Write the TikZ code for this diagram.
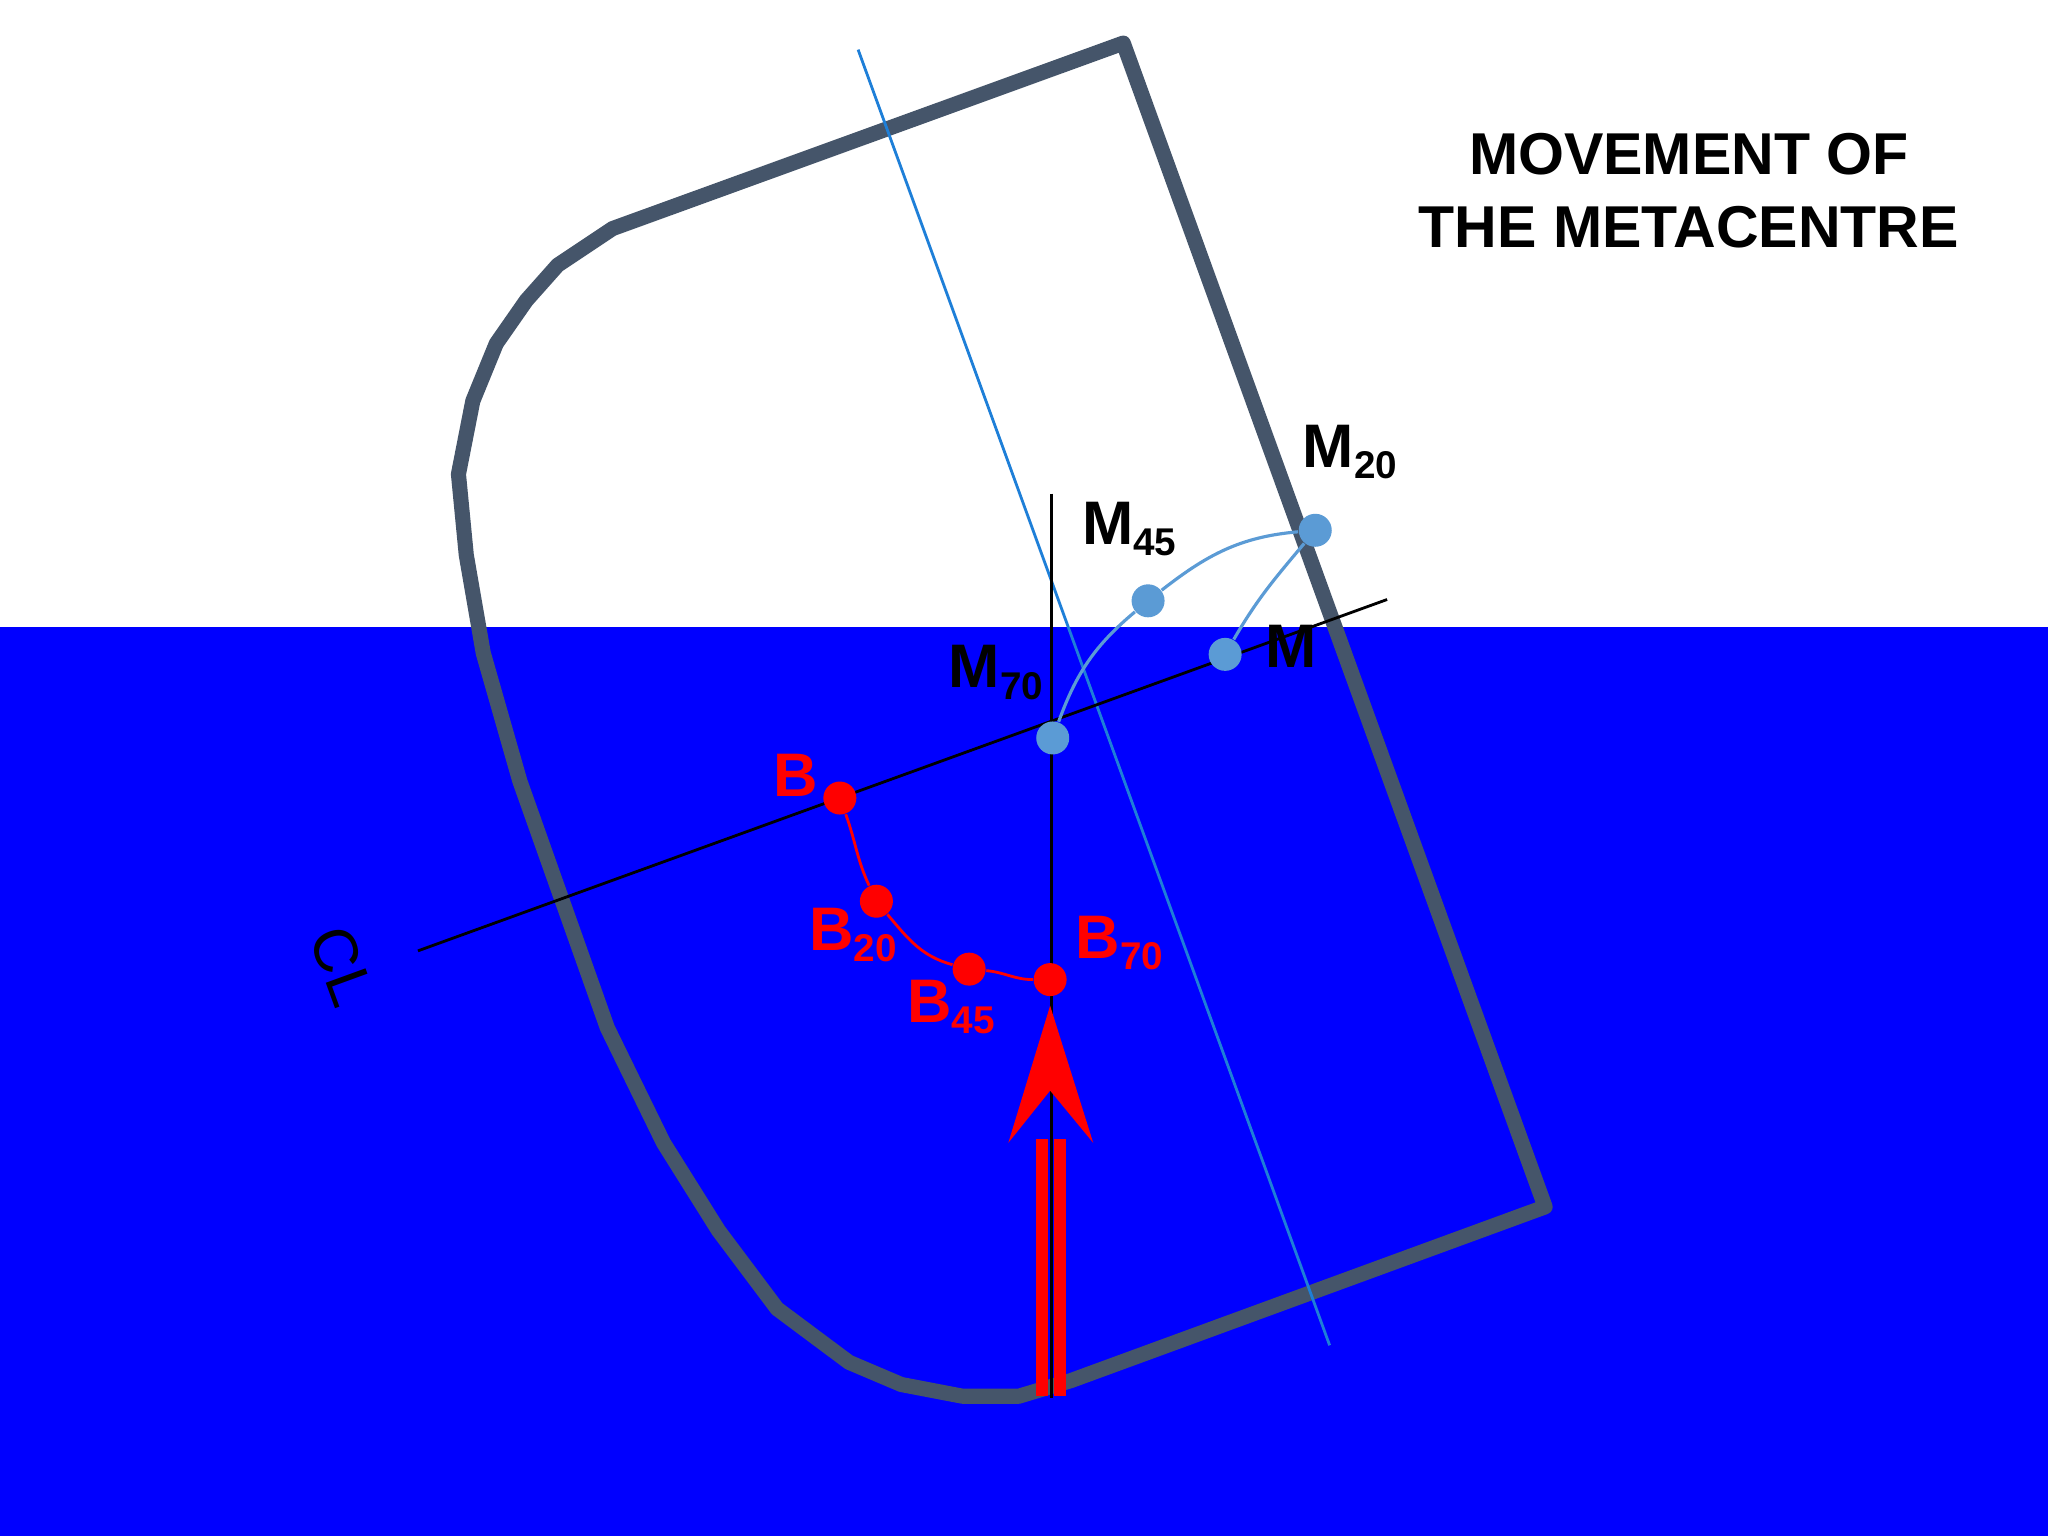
\documentclass[tikz,border=0pt]{standalone}
\usepackage{fontspec}
\setmainfont{Liberation Sans}
\definecolor{hull}{HTML}{45556A}
\definecolor{water}{HTML}{0000FF}
\definecolor{thinblue}{HTML}{1E7FD8}
\definecolor{mblue}{HTML}{5B9BD5}
\tikzset{
 lbl/.style={font=\fontsize{17.5}{20}\selectfont\bfseries,inner sep=0pt},
 bpt/.style={circle,fill=red,minimum size=0.33cm,inner sep=0pt},
 mpt/.style={circle,fill=mblue,minimum size=0.33cm,inner sep=0pt},
}
\newcommand{\sbx}[1]{\raisebox{-0.35ex}{\fontsize{11}{12}\selectfont #1}}
\begin{document}
\begin{tikzpicture}[x=0.01306cm,y=-0.01306cm]
\useasboundingbox (0,0) rectangle (1568,1176);
\fill[white] (0,0) rectangle (1568,480);
\fill[water] (0,480) rectangle (1568,1176);
\draw[hull,line width=4.3pt,line join=round]
 (860,33) -- (1183,924) -- (820,1057) -- (780,1069) -- (737,1069) -- (690,1060) -- (650,1043) -- (595,1002) -- (550,942) -- (508,875) -- (465,787) -- (398,598) -- (370,500) -- (357,425) -- (351,363) -- (362,307) -- (380,263) -- (403,230) -- (427,203) -- (469,175) -- cycle;
\coordinate (t1) at (657,38); \coordinate (t2) at (1018,1030);
\draw[thinblue,line width=0.8pt] (t1) -- (t2);
\coordinate (c1) at (320,728); \coordinate (c2) at (1062,459);
\draw[black,line width=0.8pt] (c1) -- (c2);
\coordinate (v1) at (805,378); \coordinate (v2) at (805,1070);
\draw[black,line width=0.8pt] (v1) -- (v2);
\node[font=\fontsize{17.5}{20}\selectfont,rotate=-70] (cl) at (262,740) {CL};
% B curve
\node[bpt] (B) at (643,611) {};
\node[bpt] (B20) at (671,690) {};
\node[bpt] (B45) at (742,742) {};
\node[bpt] (B70) at (804,750) {};
\draw[red,line width=0.8pt] (B) to[out=-70,in=115] (B20) to[out=-50,in=165] (B45) to[out=-5,in=180] (B70);
% M curves
\node[mpt] (M70) at (806,565) {};
\node[mpt] (M45) at (879,460) {};
\node[mpt] (M20) at (1007,406) {};
\node[mpt] (M) at (938,501) {};
\draw[mblue,line width=0.9pt] (M70) to[out=70,in=220] (M45) to[out=38,in=185] (M20);
\draw[mblue,line width=0.9pt] (M) to[out=60,in=230] (M20);
% arrow
\fill[red] (793,872) rectangle (802,1069);
\fill[red] (807,872) rectangle (816,1069);
\fill[red] (804,770) -- (837,875) -- (804,835) -- (772,875) -- cycle;
% labels
\node[lbl,red,anchor=east] at (627,594) {B};
\node[lbl,red,anchor=west] at (619,716) {B\sbx{20}};
\node[lbl,red,anchor=west] at (694,771) {B\sbx{45}};
\node[lbl,red,anchor=west] at (823,722) {B\sbx{70}};
\node[lbl,anchor=west] at (726,515) {M\sbx{70}};
\node[lbl,anchor=west] at (828,405) {M\sbx{45}};
\node[lbl,anchor=west] at (997,346) {M\sbx{20}};
\node[lbl,anchor=west] at (968,495) {M};
\node[font=\fontsize{16.8}{20}\selectfont\bfseries,inner sep=0pt,align=center] (title) at (1293,146) {MOVEMENT OF\\[1pt]THE METACENTRE};
\end{tikzpicture}
\end{document}
